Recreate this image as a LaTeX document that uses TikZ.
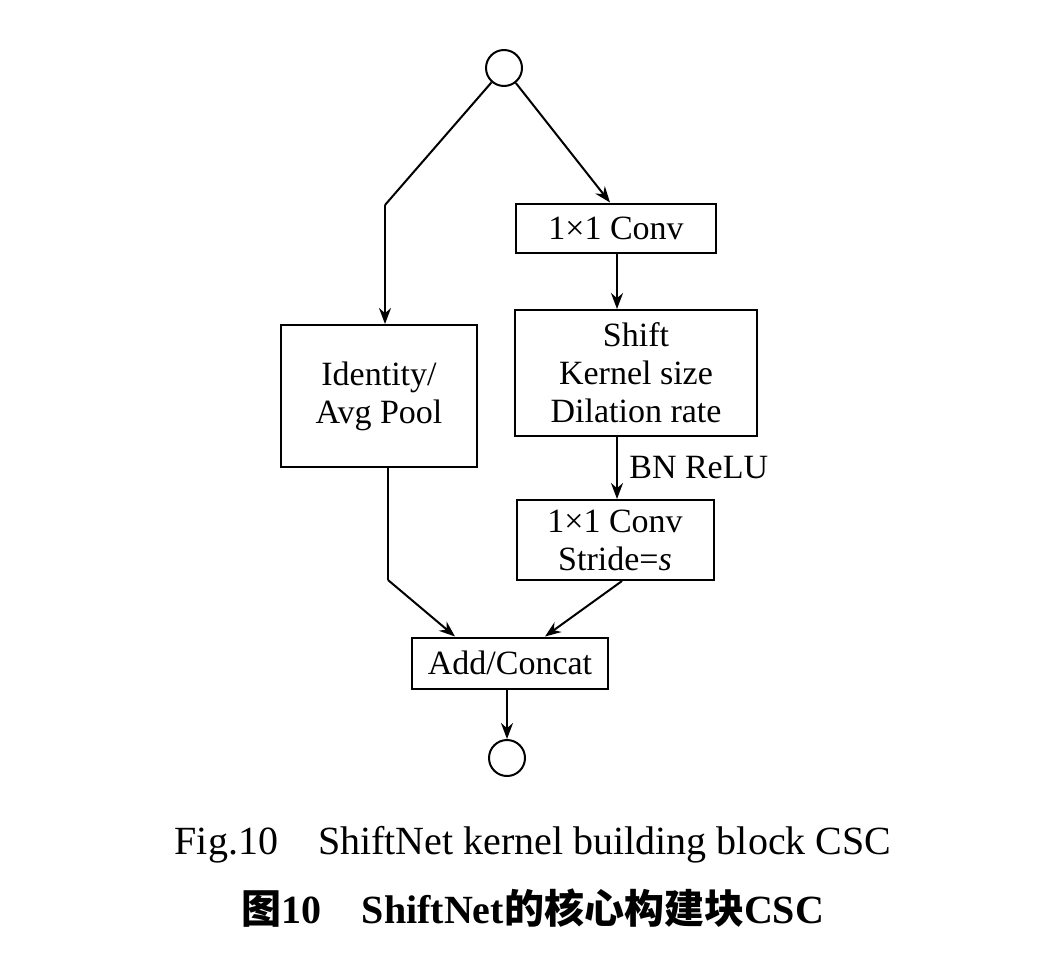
\documentclass[tikz,border=0pt]{standalone}
\usepackage{fontspec}
\setmainfont{Liberation Serif}
\newfontfamily\cjk{Noto Sans CJK SC}
\usetikzlibrary{arrows.meta}
\begin{document}
\begin{tikzpicture}[x=1pt,y=-1pt,
 box/.style={draw,line width=2pt,inner sep=0pt,align=center,font=\fontsize{34}{38}\selectfont},
 circ/.style={draw,circle,line width=2pt,minimum size=36pt,inner sep=0pt},
 arr/.style={line width=2pt,-{Stealth[length=16pt,width=12pt]}},
 ln/.style={line width=2pt}]
\useasboundingbox (0,0) rectangle (1038,955);
\node[circ] (top) at (504,68) {};
\node[box,minimum width=200pt,minimum height=49pt] (c1) at (616,228) {1×1 Conv};
\node[box,minimum width=242pt,minimum height=126pt] (sh) at (636,373) {Shift\\Kernel size\\Dilation rate};
\node[box,minimum width=196pt,minimum height=142pt] (id) at (379,396) {Identity/\\Avg Pool};
\node[box,minimum width=197pt,minimum height=80pt] (c2) at (615,540) {1×1 Conv\\Stride=\textit{s}};
\node[box,minimum width=196pt,minimum height=51pt] (add) at (510,663) {Add/Concat};
\node[circ] (bot) at (507,758) {};
\coordinate (lk) at (385,205);
\coordinate (lk2) at (388,580);
\draw[ln] (top) -- (lk);
\draw[arr] (lk) -- (id.north-|lk);
\draw[arr] (top) -- (c1.north-|610,0);
\draw[arr] (c1.south-|617,0) -- (sh.north-|617,0);
\draw[arr] (sh.south-|617,0) -- node[right,xshift=8pt,font=\fontsize{34}{38}\selectfont]{BN ReLU} (c2.north-|617,0);
\draw[ln] (id.south-|lk2) -- (lk2);
\draw[arr] (lk2) -- (add.north-|455,0);
\draw[arr] (c2.south-|622,0) -- (add.north-|545,0);
\draw[arr] (add.south-|bot) -- (bot);
\node[font=\fontsize{40}{44}\selectfont] (cap1) at (533,845) {Fig.10\hspace{1em}ShiftNet kernel building block CSC};
\node[font=\fontsize{40}{44}\selectfont\bfseries] (cap2) at (533,908) {{\cjk\bfseries 图}10\hspace{1em}ShiftNet{\cjk\bfseries 的核心构建块}CSC};
\end{tikzpicture}
\end{document}
